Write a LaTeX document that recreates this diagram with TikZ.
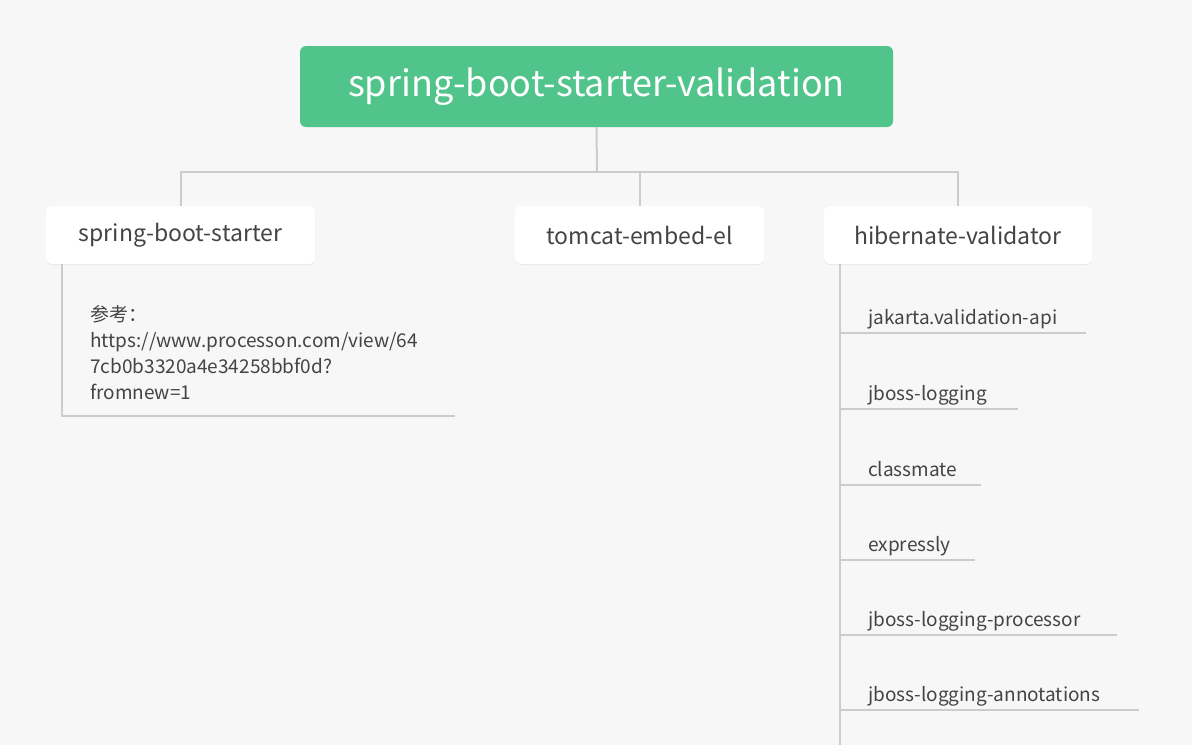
\documentclass[tikz,border=0pt]{standalone}
\usepackage{fontspec}
\setmainfont{Noto Sans CJK SC}
\usetikzlibrary{positioning, shadows}
\definecolor{rootgreen}{HTML}{50C48A}
\definecolor{linegray}{HTML}{CCCCCC}
\definecolor{textgray}{HTML}{444444}
\tikzset{
  rootbox/.style={fill=rootgreen, rounded corners=6pt, text=white, font=\fontsize{36}{40}\selectfont, minimum width=593pt, minimum height=81pt, inner sep=0pt},
  childbox/.style={fill=white, rounded corners=6pt, text=textgray, font=\fontsize{23}{26}\selectfont, minimum height=58pt, inner sep=0pt, drop shadow={shadow xshift=0pt, shadow yshift=-1pt, opacity=0.12}},
  leaf/.style={anchor=base west, text=textgray, font=\fontsize{19}{26}\selectfont, inner sep=0pt},
  conn/.style={draw=linegray, line width=2pt},
  under/.style={draw=linegray, line width=1.2pt}
}
\begin{document}
\begin{tikzpicture}[x=1pt, y=-1pt]
  \fill[white!97!black] (0,0) rectangle (1192,745);
  \useasboundingbox (0,0) rectangle (1192,745);

  % root and first level
  \node[rootbox] (root) at (596.5,86.5) {spring-boot-starter-validation};
  \node[childbox, minimum width=269pt] (starter) at (180.5,235) {spring-boot-starter};
  \node[childbox, minimum width=249pt] (tomcat) at (639.5,235) {tomcat-embed-el};
  \node[childbox, minimum width=268pt] (hibernate) at (958,235) {hibernate-validator};

  % tree connectors
  \coordinate (fork) at (597,172);
  \draw[conn] (root.south) -- (fork);
  \draw[conn] (starter.north) |- (fork) -| (hibernate.north);
  \draw[conn] (tomcat.north) -- (tomcat.north |- fork);

  % note under spring-boot-starter
  \node[leaf, align=left, anchor=north west] (note) at (90,305) {参考：\\https://www.processon.com/view/64\\7cb0b3320a4e34258bbf0d?\\fromnew=1};
  \coordinate (noteend) at (455,416);
  \draw[under] (62,264) |- (noteend);

  % leaves under hibernate-validator
  \draw[under] (840,264) -- (840,745);
  \foreach \name/\y/\xe in {jakarta.validation-api/333/1086, jboss-logging/409/1018, classmate/485/981, expressly/560/975, jboss-logging-processor/635/1117, jboss-logging-annotations/710/1139}{
    \node[leaf] (leaf\y) at (868,\y-9) {\name};
    \draw[under] (840,\y) -- (\xe,\y);
  }
\end{tikzpicture}
\end{document}
